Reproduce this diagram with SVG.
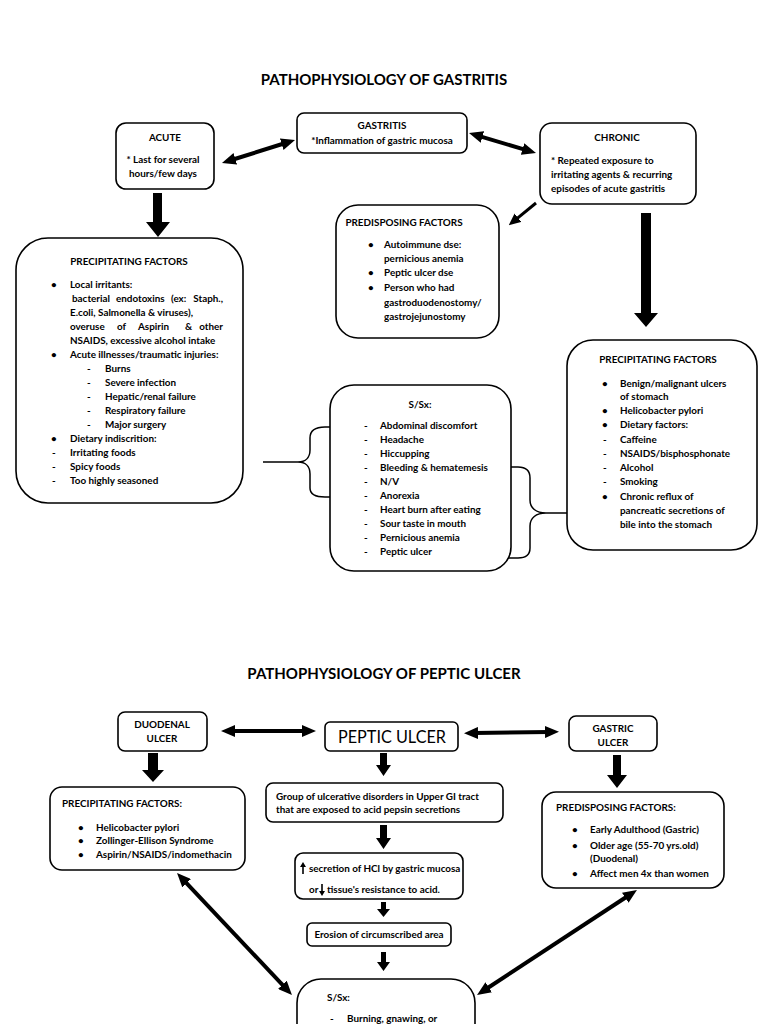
<svg xmlns="http://www.w3.org/2000/svg" width="768" height="1024" viewBox="0 0 768 1024">
<style>
text{font-family:Lato,"Liberation Sans",sans-serif;font-weight:bold;font-size:9.9px;fill:#000}
.t{font-size:15px}
.c{text-anchor:middle}
.box{fill:#fff;stroke:#000;stroke-width:1.6}
.dbl{stroke:#000;stroke-width:4;fill:none;marker-start:url(#ah);marker-end:url(#ah)}
.blk{fill:#000}
.br{fill:none;stroke:#000;stroke-width:1.5}
</style>
<defs>
<marker id="ah" viewBox="0 0 14 12" markerUnits="userSpaceOnUse" markerWidth="14" markerHeight="12" refX="4" refY="6" orient="auto-start-reverse"><path d="M0,0 L14,6 L0,12 z" fill="#000"/></marker>
<marker id="ah2" viewBox="0 0 12 11" markerUnits="userSpaceOnUse" markerWidth="12" markerHeight="11" refX="3" refY="5.5" orient="auto"><path d="M0,0 L12,5.5 L0,11 z" fill="#000"/></marker>
</defs>
<rect width="768" height="1024" fill="#fff"/>

<text class="t c" x="384" y="85">PATHOPHYSIOLOGY OF GASTRITIS</text>
<text class="t c" x="384" y="679">PATHOPHYSIOLOGY OF PEPTIC ULCER</text>

<g id="connectors">
<line class="dbl" x1="231.5" y1="160" x2="285.5" y2="143"/>
<line class="dbl" x1="478.6" y1="135.9" x2="526.4" y2="150.1"/>
<line x1="536" y1="203" x2="515.7" y2="219.6" stroke="#000" stroke-width="3" marker-end="url(#ah2)"/>
<polygon class="blk" points="153,193 162,193 162,222 170,222 158,237 146,222 153,222"/>
<polygon class="blk" points="641,213 651,213 651,313 658,313 646,327 634,313 641,313"/>
<path class="br" d="M263,462 H298 C305,462 310,458 310,450 V438 C310,430 315,427 325,427 H357 M298,462 C305,462 310,466 310,474 V488 C310,494 315,497 325,497 H357"/>
<path class="br" d="M493,467 H518 C526,467 530,471 530,478 V500 C530,508 536,513 546,513 H568 M546,513 C536,513 530,518 530,526 V548 C530,555 526,558 518,558 H493"/>

<line class="dbl" x1="231" y1="731" x2="306" y2="731"/>
<line class="dbl" x1="474" y1="733" x2="549" y2="732"/>
<polygon class="blk" points="148,753 158,753 158,770 164,770 153,782 142,770 148,770"/>
<polygon class="blk" points="613,755 621,755 621,775 627,775 617,788 607,775 613,775"/>
<polygon class="blk" points="380,753 387,753 387,765 391,765 383.5,776 376,765 380,765"/>
<polygon class="blk" points="380,825 387,825 387,838 391,838 383.5,849 376,838 380,838"/>
<polygon class="blk" points="381,902 386,902 386,909 390,909 383.5,917 377,909 381,909"/>
<polygon class="blk" points="381,952 386,952 386,962 390,962 383.5,971 377,962 381,962"/>
<line class="dbl" x1="183.9" y1="880.3" x2="285.1" y2="987.7"/>
<line class="dbl" x1="485.4" y1="989.5" x2="628.6" y2="895.5"/>
</g>

<g id="gastritis">
<rect class="box" x="297" y="113" width="170" height="40" rx="7"/>
<text class="c" x="382" y="129">GASTRITIS</text>
<text class="c" x="382" y="144">*Inflammation of gastric mucosa</text>
</g>

<g id="acute">
<rect class="box" x="116" y="123" width="98" height="66" rx="10"/>
<text class="c" x="165" y="141">ACUTE</text>
<text class="c" x="163" y="163">* Last for several</text>
<text class="c" x="163" y="177">hours/few days</text>
</g>

<g id="chronic">
<rect class="box" x="540" y="123" width="156" height="81" rx="12"/>
<text class="c" x="617" y="141">CHRONIC</text>
<text x="551" y="164">*  Repeated exposure to</text>
<text x="551" y="178">irritating agents &amp; recurring</text>
<text x="551" y="192">episodes of acute gastritis</text>
</g>

<g id="predisposing1">
<rect class="box" x="336" y="205" width="163" height="133" rx="22"/>
<text class="c" x="404" y="226">PREDISPOSING FACTORS</text>
<text x="368" y="248">•</text><text x="384" y="248">Autoimmune dse:</text>
<text x="384" y="262">pernicious anemia</text>
<text x="368" y="276">•</text><text x="384" y="276">Peptic ulcer dse</text>
<text x="368" y="291">•</text><text x="384" y="291">Person who had</text>
<text x="384" y="306">gastroduodenostomy/</text>
<text x="384" y="320">gastrojejunostomy</text>
</g>

<g id="precipitating1">
<rect class="box" x="16" y="238" width="227" height="265" rx="32"/>
<text class="c" x="129" y="265">PRECIPITATING FACTORS</text>
<text x="51" y="288">•</text><text x="70" y="288">Local irritants:</text>
<text x="72" y="302">bacterial</text><text x="116" y="302">endotoxins</text><text x="171" y="302">(ex:</text><text x="223" y="302" text-anchor="end">Staph.,</text>
<text x="70" y="316">E.coli, Salmonella &amp; viruses),</text>
<text x="70" y="330">overuse</text><text x="117" y="330">of</text><text x="138" y="330">Aspirin</text><text x="185" y="330">&amp;</text><text x="223" y="330" text-anchor="end">other</text>
<text x="70" y="344">NSAIDS, excessive alcohol intake</text>
<text x="51" y="358">•</text><text x="70" y="358">Acute illnesses/traumatic injuries:</text>
<text x="87" y="372">-</text><text x="105" y="372">Burns</text>
<text x="87" y="386">-</text><text x="105" y="386">Severe infection</text>
<text x="87" y="400">-</text><text x="105" y="400">Hepatic/renal failure</text>
<text x="87" y="414">-</text><text x="105" y="414">Respiratory failure</text>
<text x="87" y="428">-</text><text x="105" y="428">Major surgery</text>
<text x="51" y="442">•</text><text x="70" y="442">Dietary indiscrition:</text>
<text x="52" y="456">-</text><text x="70" y="456">Irritating foods</text>
<text x="52" y="470">-</text><text x="70" y="470">Spicy foods</text>
<text x="52" y="484">-</text><text x="70" y="484">Too highly seasoned</text>
</g>

<g id="ssx1">
<rect class="box" x="330" y="385" width="181" height="186" rx="24"/>
<text class="c" x="420" y="408">S/Sx:</text>
<text x="364" y="429">-</text><text x="380" y="429">Abdominal discomfort</text>
<text x="364" y="443">-</text><text x="380" y="443">Headache</text>
<text x="364" y="457">-</text><text x="380" y="457">Hiccupping</text>
<text x="364" y="471">-</text><text x="380" y="471">Bleeding &amp; hematemesis</text>
<text x="364" y="485">-</text><text x="380" y="485">N/V</text>
<text x="364" y="499">-</text><text x="380" y="499">Anorexia</text>
<text x="364" y="513">-</text><text x="380" y="513">Heart burn after eating</text>
<text x="364" y="527">-</text><text x="380" y="527">Sour taste in mouth</text>
<text x="364" y="541">-</text><text x="380" y="541">Pernicious anemia</text>
<text x="364" y="555">-</text><text x="380" y="555">Peptic ulcer</text>
</g>

<g id="precipitating2">
<rect class="box" x="567" y="340" width="190" height="210" rx="26"/>
<text class="c" x="658" y="363">PRECIPITATING FACTORS</text>
<text x="602" y="387">•</text><text x="620" y="387">Benign/malignant ulcers</text>
<text x="620" y="400">of stomach</text>
<text x="602" y="414">•</text><text x="620" y="414">Helicobacter pylori</text>
<text x="602" y="428">•</text><text x="620" y="428">Dietary factors:</text>
<text x="603" y="443">-</text><text x="620" y="443">Caffeine</text>
<text x="603" y="457">-</text><text x="620" y="457">NSAIDS/bisphosphonate</text>
<text x="603" y="471">-</text><text x="620" y="471">Alcohol</text>
<text x="603" y="485">-</text><text x="620" y="485">Smoking</text>
<text x="602" y="500">•</text><text x="620" y="500">Chronic reflux of</text>
<text x="620" y="514">pancreatic secretions  of</text>
<text x="620" y="528">bile into the stomach</text>
</g>

<g id="duodenal">
<rect class="box" x="118" y="712" width="89" height="39" rx="7"/>
<text class="c" x="162" y="728">DUODENAL</text>
<text class="c" x="162" y="742">ULCER</text>
</g>

<g id="peptic">
<rect class="box" x="325" y="722" width="133" height="29" rx="5"/>
<text class="c" x="392" y="743" style="font-weight:normal;font-size:17px" textLength="108" lengthAdjust="spacingAndGlyphs">PEPTIC ULCER</text>
</g>

<g id="gastric">
<rect class="box" x="569" y="716" width="88" height="35" rx="7"/>
<text class="c" x="613" y="732">GASTRIC</text>
<text class="c" x="613" y="746">ULCER</text>
</g>

<g id="precipitating3">
<rect class="box" x="50" y="787" width="195" height="83" rx="12"/>
<text x="62" y="807">PRECIPITATING FACTORS:</text>
<text x="78" y="831">•</text><text x="96" y="831">Helicobacter pylori</text>
<text x="78" y="844">•</text><text x="96" y="844">Zollinger-Ellison Syndrome</text>
<text x="78" y="858">•</text><text x="96" y="858">Aspirin/NSAIDS/indomethacin</text>
</g>

<g id="predisposing2">
<rect class="box" x="542" y="792" width="182" height="96" rx="14"/>
<text x="556" y="811">PREDISPOSING FACTORS:</text>
<text x="572" y="833">•</text><text x="590" y="833">Early Adulthood (Gastric)</text>
<text x="572" y="849">•</text><text x="590" y="849">Older age (55-70 yrs.old)</text>
<text x="590" y="862">(Duodenal)</text>
<text x="572" y="877">•</text><text x="590" y="877">Affect men 4x than women</text>
</g>

<g id="group">
<rect class="box" x="266" y="783" width="237" height="39" rx="7"/>
<text x="276" y="800">Group of ulcerative disorders in Upper GI tract</text>
<text x="276" y="813">that are exposed to acid pepsin secretions</text>
</g>

<g id="hcl">
<rect class="box" x="295" y="853" width="168" height="46" rx="8"/>
<line x1="303" y1="874" x2="303" y2="866" stroke="#000" stroke-width="1.6"/>
<polygon class="blk" points="300,867 306,867 303,862"/>
<text x="309" y="872">secretion of HCl by gastric mucosa</text>
<text x="309" y="893">or</text>
<line x1="322" y1="884" x2="322" y2="892" stroke="#000" stroke-width="1.6"/>
<polygon class="blk" points="319,891 325,891 322,896"/>
<text x="327" y="893">tissue's resistance to acid.</text>
</g>

<g id="erosion">
<rect class="box" x="307" y="923" width="144" height="23" rx="5"/>
<text class="c" x="379" y="938">Erosion of circumscribed area</text>
</g>

<g id="ssx2">
<rect class="box" x="297" y="979" width="178" height="80" rx="24"/>
<text x="327" y="1001">S/Sx:</text>
<text x="330" y="1022">-</text><text x="347" y="1022">Burning, gnawing, or</text>
</g>
</svg>
